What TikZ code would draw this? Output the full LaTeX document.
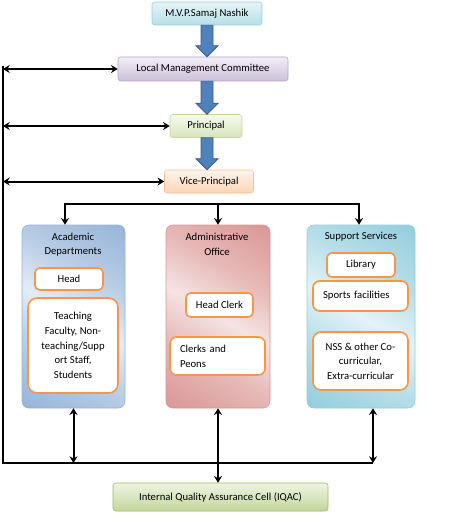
\documentclass[tikz,border=0pt]{standalone}
\usepackage{fontspec}
\setmainfont{Carlito}
\usetikzlibrary{arrows.meta,calc}
\definecolor{mvpT}{HTML}{E5F5F9}\definecolor{mvpB}{HTML}{B7DEE8}\definecolor{mvpD}{HTML}{93CDDD}
\definecolor{lmcT}{HTML}{F2EEF7}\definecolor{lmcB}{HTML}{CCC1DA}\definecolor{lmcD}{HTML}{B3A2C7}
\definecolor{priT}{HTML}{F6FAEF}\definecolor{priB}{HTML}{D7E4BD}\definecolor{priD}{HTML}{C3D69B}
\definecolor{vpT}{HTML}{FFF5EE}\definecolor{vpB}{HTML}{FCD5B5}\definecolor{vpD}{HTML}{FAC090}
\definecolor{iqT}{HTML}{EEF4E4}\definecolor{iqB}{HTML}{C3D69B}\definecolor{iqD}{HTML}{9BBB59}
\definecolor{acD}{HTML}{95B3D7}\definecolor{acL}{HTML}{E4ECF5}\colorlet{acM}{acD!55!acL}
\definecolor{adD}{HTML}{D99694}\definecolor{adL}{HTML}{F5E3E3}\colorlet{adM}{adD!55!adL}
\definecolor{suD}{HTML}{92CDDC}\definecolor{suL}{HTML}{E3F3F7}\colorlet{suM}{suD!55!suL}
\definecolor{orgB}{HTML}{F79646}
\definecolor{blkF}{HTML}{4F81BD}\definecolor{blkD}{HTML}{385D8A}
\pgfdeclarehorizontalshading{acadsh}{100bp}{color(0bp)=(acD); color(15bp)=(acD); color(35bp)=(acM); color(50bp)=(acL); color(65bp)=(acM); color(85bp)=(acD); color(100bp)=(acD)}
\pgfdeclarehorizontalshading{admsh}{100bp}{color(0bp)=(adD); color(15bp)=(adD); color(35bp)=(adM); color(50bp)=(adL); color(65bp)=(adM); color(85bp)=(adD); color(100bp)=(adD)}
\pgfdeclarehorizontalshading{supsh}{100bp}{color(0bp)=(suD); color(15bp)=(suD); color(35bp)=(suM); color(50bp)=(suL); color(65bp)=(suM); color(85bp)=(suD); color(100bp)=(suD)}
\newcommand\blkarrow[2]{\path[blk] let \p1=(#1.south -| bx), \p2=(#2.north -| bx) in
  (\x1-4.5pt,\y1) -- (\x1-4.5pt,\y2+8.25pt) -- (\x1-8.25pt,\y2+8.25pt) -- (\x1,\y2)
  -- (\x1+8.25pt,\y2+8.25pt) -- (\x1+4.5pt,\y2+8.25pt) -- (\x1+4.5pt,\y1) -- cycle;}
\begin{document}
\begin{tikzpicture}[x=0.75pt,y=-0.75pt,
  sz/.style 2 args={minimum width={#1*0.75pt},minimum height={#2*0.75pt}},
  every node/.style={font=\fontsize{8}{11}\selectfont, inner sep=0pt, text=black},
  topbox/.style n args={3}{draw=#1, top color=#2, bottom color=#3, rounded corners=2pt, line width=0.4pt},
  big/.style={draw=#1, rounded corners=5pt, line width=0.4pt},
  inner/.style={draw=orgB, fill=white, line width=1.2pt, rounded corners=3.5pt},
  blk/.style={fill=blkF, draw=blkD, line width=0.6pt},
  conn/.style={line width=1.5pt, {Stealth[length=5pt,width=6pt]}-{Stealth[length=5pt,width=6pt]}},
  arr/.style={line width=1.5pt, -{Stealth[length=5pt,width=6pt]}},
  wire/.style={line width=1.5pt}]
\useasboundingbox (0,0) rectangle (451,524);
% top chain
\node[topbox={mvpD}{mvpT}{mvpB}, sz={110}{23}] (mvp) at (207,13.5) {M.V.P.Samaj Nashik};
\node[topbox={lmcD}{lmcT}{lmcB}, sz={170}{24}] (lmc) at (203,69) {Local Management Committee};
\node[topbox={priD}{priT}{priB}, sz={72}{23}] (pri) at (206,126) {Principal};
\node[topbox={vpD}{vpT}{vpB}, sz={89}{23}] (vp) at (209,181.5) {Vice-Principal};
\coordinate (bx) at (207,0);
\blkarrow{mvp}{lmc}
\blkarrow{lmc}{pri}
\blkarrow{pri}{vp}
% big boxes
\node[big=acD, shading=acadsh, shading angle=60, sz={103}{183}] (acad) at (73.5,316.5) {};
\node[big=adD, shading=admsh, shading angle=60, sz={104}{183}] (adm) at (218,316.5) {};
\node[big=suD, shading=supsh, shading angle=60, sz={108}{183}] (sup) at (361,316.5) {};
\node[align=center] (acadt) at (73,244.5) {Academic\\Departments};
\node[align=center] (admt) at (217,244.5) {Administrative\\Office};
\node (supt) at (361,237) {Support Services};
\node[inner, sz={68}{22}] (head) at (69,279) {Head};
\node[inner, rounded corners=7pt, sz={90}{95}, align=center] (teach) at (73,345.5) {Teaching\\Faculty, Non-\\teaching/Supp\\ort Staff,\\Students};
\node[inner, sz={67}{24}] (hclerk) at (219.5,305) {Head Clerk};
\node[inner, rounded corners=5pt, sz={95}{38}, text width=56.25pt, align=left] (clerks) at (217.5,356) {Clerks and\\Peons};
\node[inner, sz={68}{24}] (lib) at (361,265) {Library};
\node[inner, rounded corners=5pt, sz={95}{30}, text width=56.25pt, align=left] (sport) at (360.5,296) {Sports facilities};
\node[inner, rounded corners=6pt, sz={95}{58}, align=center] (nss) at (360.5,361) {NSS \& other Co-\\curricular,\\Extra-curricular};
\node[topbox={iqD}{iqT}{iqB}, sz={215}{28}] (iqac) at (220.5,497) {Internal Quality Assurance Cell (IQAC)};
% left feedback loop
\coordinate (lx) at (3,0);
\coordinate (ltop) at (3,66);
\coordinate (lbot) at (3,463);
\coordinate (rbot) at (373,463);
\coordinate (sx) at (373,0);
\draw[wire] (ltop) -- (lbot) -- (rbot);
\draw[conn] (lmc.west -| lx) -- (lmc.west);
\draw[conn] (pri.west -| lx) -- (pri.west);
\draw[conn] (vp.west -| lx) -- (vp.west);
% distribution
\coordinate (d1) at (65,204);
\coordinate (d3) at (359,204);
\draw[conn] (d1 |- acad.north) -- (d1) -- (d3) -- (d3 |- sup.north);
\draw[arr] (adm.north |- d1) -- (adm.north);
% bottom
\draw[conn] (acad.south) -- (acad.south |- lbot);
\draw[conn] (sup.south -| sx) -- (rbot);
\draw[conn, line width=2pt] (adm.south) -- (adm.south |- iqac.north);
\end{tikzpicture}
\end{document}
